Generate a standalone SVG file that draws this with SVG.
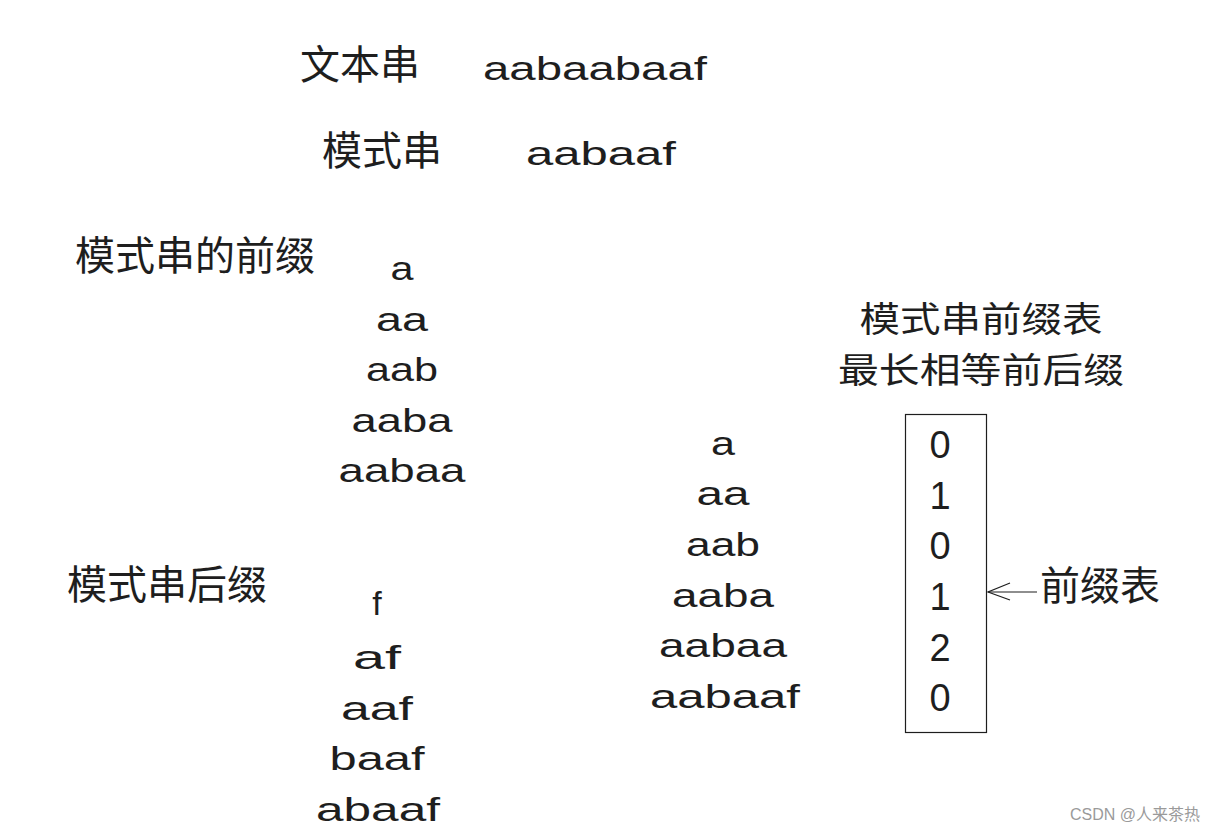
<svg xmlns="http://www.w3.org/2000/svg" width="1216" height="832" viewBox="0 0 1216 832">
<defs>
<style>
.cjk{font-family:"Noto Sans CJK SC","Noto Sans",sans-serif;font-size:40px;fill:#1e1e1e}
.cjk2{font-family:"Noto Sans CJK SC","Noto Sans",sans-serif;font-size:35px;fill:#1e1e1e;text-anchor:middle}
.hw{font-family:"Liberation Sans","Noto Sans",sans-serif;font-size:34px;fill:#1e1e1e;text-anchor:middle}
.num{font-family:"Liberation Sans","Noto Sans",sans-serif;font-size:38px;fill:#1e1e1e;text-anchor:middle}
.wm{font-family:"Liberation Sans","Noto Sans CJK SC",sans-serif;font-size:16px;fill:#9a9a9a;text-anchor:end}
</style>
</defs>
<rect width="1216" height="832" fill="#ffffff"/>

<g id="text-string">
<text class="cjk" x="300" y="79">文本串</text>
<text class="hw" x="595" y="80" textLength="224" lengthAdjust="spacingAndGlyphs">aabaabaaf</text>
</g>
<g id="pattern-string">
<text class="cjk" x="322" y="165">模式串</text>
<text class="hw" x="601" y="165" textLength="150" lengthAdjust="spacingAndGlyphs">aabaaf</text>
</g>

<g id="prefix-label">
<text class="cjk" x="75" y="270">模式串的前缀</text>
</g>
<g id="prefix-list">
<text class="hw" x="402" y="280" textLength="23" lengthAdjust="spacingAndGlyphs">a</text>
<text class="hw" x="402" y="331" textLength="52" lengthAdjust="spacingAndGlyphs">aa</text>
<text class="hw" x="402" y="381" textLength="72" lengthAdjust="spacingAndGlyphs">aab</text>
<text class="hw" x="402" y="432" textLength="101" lengthAdjust="spacingAndGlyphs">aaba</text>
<text class="hw" x="402" y="482" textLength="127" lengthAdjust="spacingAndGlyphs">aabaa</text>
</g>

<g id="suffix-label">
<text class="cjk" x="67" y="599">模式串后缀</text>
</g>
<g id="suffix-list">
<text class="hw" x="377" y="615">f</text>
<text class="hw" x="377" y="669" textLength="48" lengthAdjust="spacingAndGlyphs">af</text>
<text class="hw" x="377" y="720" textLength="72" lengthAdjust="spacingAndGlyphs">aaf</text>
<text class="hw" x="377" y="770" textLength="95" lengthAdjust="spacingAndGlyphs">baaf</text>
<text class="hw" x="378" y="821" textLength="124" lengthAdjust="spacingAndGlyphs">abaaf</text>
</g>

<g id="substr-list">
<text class="hw" x="723" y="455" textLength="24" lengthAdjust="spacingAndGlyphs">a</text>
<text class="hw" x="723" y="505" textLength="53" lengthAdjust="spacingAndGlyphs">aa</text>
<text class="hw" x="723" y="556" textLength="74" lengthAdjust="spacingAndGlyphs">aab</text>
<text class="hw" x="723" y="607" textLength="102" lengthAdjust="spacingAndGlyphs">aaba</text>
<text class="hw" x="723" y="657" textLength="128" lengthAdjust="spacingAndGlyphs">aabaa</text>
<text class="hw" x="725" y="708" textLength="150" lengthAdjust="spacingAndGlyphs">aabaaf</text>
</g>

<g id="table-title">
<text class="cjk2" x="981" y="332" textLength="243" lengthAdjust="spacingAndGlyphs">模式串前缀表</text>
<text class="cjk2" x="981" y="383" textLength="286" lengthAdjust="spacingAndGlyphs">最长相等前后缀</text>
</g>

<g id="prefix-table">
<rect x="905.5" y="414.5" width="81" height="318" fill="none" stroke="#1e1e1e" stroke-width="1.2"/>
<text class="num" x="940" y="458">0</text>
<text class="num" x="940" y="509">1</text>
<text class="num" x="940" y="559">0</text>
<text class="num" x="940" y="610">1</text>
<text class="num" x="940" y="661">2</text>
<text class="num" x="940" y="711">0</text>
</g>

<g id="connectors">
<path d="M1037,592 L988,592" fill="none" stroke="#1e1e1e" stroke-width="1.2"/>
<path d="M1010,583 L988,592 L1010,600" fill="none" stroke="#1e1e1e" stroke-width="1.2"/>
</g>

<g id="table-label">
<text class="cjk" x="1040" y="600">前缀表</text>
</g>

<g id="watermark">
<text class="wm" x="1200" y="820">CSDN @人来茶热</text>
</g>
</svg>
